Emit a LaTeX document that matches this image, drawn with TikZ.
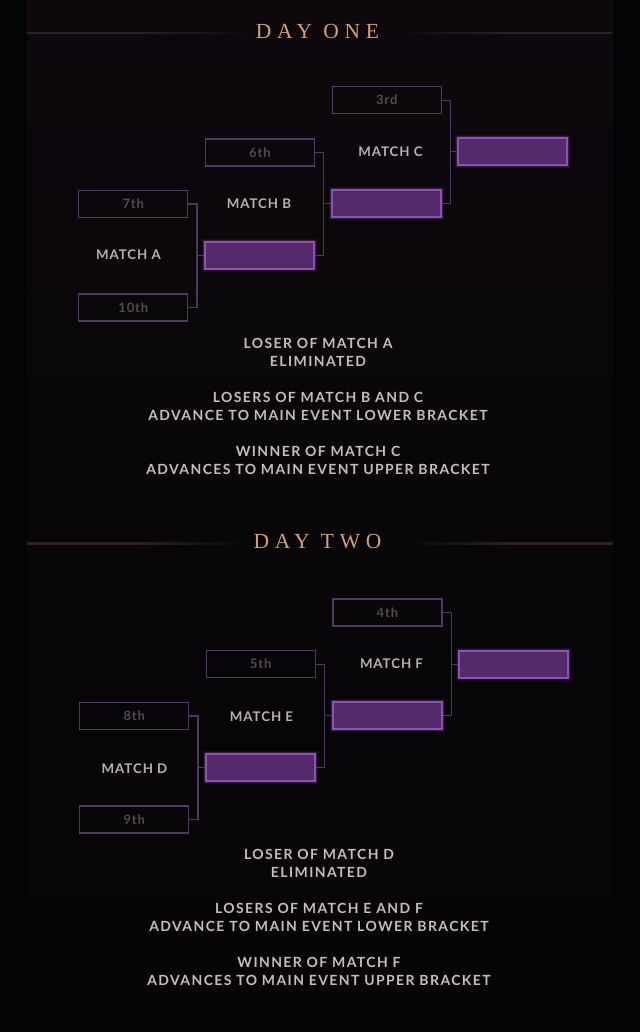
\documentclass[tikz,border=0pt]{standalone}
\usepackage{fontspec}
\usetikzlibrary{calc}
\newfontfamily\descfont{Lato}[LetterSpace=10]
\newfontfamily\labfont{Lato}[LetterSpace=7]
\newfontfamily\titlefont{Liberation Serif}[LetterSpace=27]
\definecolor{bgout}{HTML}{040306}
\definecolor{bgtop}{HTML}{0E080D}
\definecolor{bgmid}{HTML}{080609}
\definecolor{bgbot}{HTML}{060407}
\definecolor{rule}{HTML}{2B2126}
\definecolor{seedline}{HTML}{4D3A63}
\definecolor{seedtext}{HTML}{514A50}
\definecolor{winfill}{HTML}{532B6A}
\definecolor{winline}{HTML}{8F50B3}
\definecolor{glow}{HTML}{9A5CC4}
\definecolor{conn}{HTML}{4A3860}
\definecolor{labtext}{HTML}{B8B0B6}
\definecolor{desctext}{HTML}{C4BCC2}
\definecolor{titletext}{HTML}{D0A07C}
\tikzset{
  seedbox/.style={draw=seedline, line width=1.3pt,
    minimum width=109pt, minimum height=27pt, inner sep=0pt,
    text=seedtext, font=\labfont\bfseries\fontsize{13}{14}\selectfont},
  winbox/.style={draw=winline, fill=winfill, line width=1.6pt,
    minimum width=109pt, minimum height=27pt, inner sep=0pt,
    preaction={draw=glow, line width=6pt, opacity=0.10},
    preaction={draw=glow, line width=3.5pt, opacity=0.18}},
  matchlab/.style={text=labtext, font=\labfont\bfseries\fontsize{13.3}{14}\selectfont, inner sep=0pt},
  desc/.style={text=desctext, font=\descfont\bfseries\fontsize{14}{18}\selectfont, align=center, inner sep=0pt},
  daytitle/.style={text=titletext, font=\titlefont\fontsize{21.5}{22}\selectfont, inner sep=0pt},
  connline/.style={draw=conn, line width=1.3pt}
}
\begin{document}
\begin{tikzpicture}[x=1pt,y=-1pt]
\useasboundingbox (0,0) rectangle (640,1032);
\fill[bgout] (0,0) rectangle (640,1032);
\shade[top color=bgtop, bottom color=bgmid] (27,0) rectangle (612.5,500);
\shade[top color=bgmid, bottom color=bgbot] (27,500) rectangle (612.5,1032);

% ---------- DAY ONE ----------
\shade[left color=rule, right color=bgtop, middle color=rule] (27,32.6) rectangle (250,34);
\shade[left color=bgtop, right color=rule, middle color=rule] (400,32.6) rectangle (612.5,34);
\node[daytitle] (t1) at (317.5,31.5) {DAY ONE};

\node[seedbox] (s7)  at (133.3,204)   {7th};
\node[seedbox] (s10) at (133.3,307.5) {10th};
\node[winbox]  (wA)  at (259.7,255.2) {};
\node[seedbox] (s6)  at (260,152.5)   {6th};
\node[winbox]  (wB)  at (386.7,203.3) {};
\node[seedbox] (s3)  at (386.7,100.2) {3rd};
\node[winbox]  (wC)  at (512.5,151.7) {};

\node[matchlab] (mA) at (128.5,255)   {MATCH A};
\node[matchlab] (mB) at (259,204) {MATCH B};
\node[matchlab] (mC) at (390.5,151.7) {MATCH C};

\draw[connline] (s7.east) -- ++(8.5,0) coordinate (cA) |- (s10.east);
\draw[connline] (cA |- wA.west) -- (wA.west);
\draw[connline] (s6.east) -- ++(8.5,0) coordinate (cB) |- (wA.east);
\draw[connline] (cB |- wB.west) -- (wB.west);
\draw[connline] (s3.east) -- ++(8.5,0) coordinate (cC) |- (wB.east);
\draw[connline] (cC |- wC.west) -- (wC.west);

\node[desc] (d1) at (318,352) {LOSER OF MATCH A\\ELIMINATED};
\node[desc] (d2) at (318,406) {LOSERS OF MATCH B AND C\\ADVANCE TO MAIN EVENT LOWER BRACKET};
\node[desc] (d3) at (318,460) {WINNER OF MATCH C\\ADVANCES TO MAIN EVENT UPPER BRACKET};

% ---------- DAY TWO ----------
\shade[left color=rule, right color=bgmid, middle color=rule] (27,542.6) rectangle (248,544);
\shade[left color=bgmid, right color=rule, middle color=rule] (404,542.6) rectangle (612.5,544);
\node[daytitle] (t2) at (317.5,541.5) {DAY TWO};

\node[seedbox] (s8)  at (134.3,716)   {8th};
\node[seedbox] (s9)  at (134.3,819.5) {9th};
\node[winbox]  (wD)  at (260.7,767.5) {};
\node[seedbox] (s5)  at (260.7,664.2) {5th};
\node[winbox]  (wE)  at (387.5,715.5) {};
\node[seedbox] (s4)  at (387.5,612.5) {4th};
\node[winbox]  (wF)  at (513.5,664.2) {};

\node[matchlab] (mD) at (134.5,768.3) {MATCH D};
\node[matchlab] (mE) at (261.5,716.3) {MATCH E};
\node[matchlab] (mF) at (391.5,664)   {MATCH F};

\draw[connline] (s8.east) -- ++(8.5,0) coordinate (cD) |- (s9.east);
\draw[connline] (cD |- wD.west) -- (wD.west);
\draw[connline] (s5.east) -- ++(8.5,0) coordinate (cE) |- (wD.east);
\draw[connline] (cE |- wE.west) -- (wE.west);
\draw[connline] (s4.east) -- ++(8.5,0) coordinate (cF) |- (wE.east);
\draw[connline] (cF |- wF.west) -- (wF.west);

\node[desc] (d4) at (319,863) {LOSER OF MATCH D\\ELIMINATED};
\node[desc] (d5) at (319,917) {LOSERS OF MATCH E AND F\\ADVANCE TO MAIN EVENT LOWER BRACKET};
\node[desc] (d6) at (319,971) {WINNER OF MATCH F\\ADVANCES TO MAIN EVENT UPPER BRACKET};
\end{tikzpicture}
\end{document}
